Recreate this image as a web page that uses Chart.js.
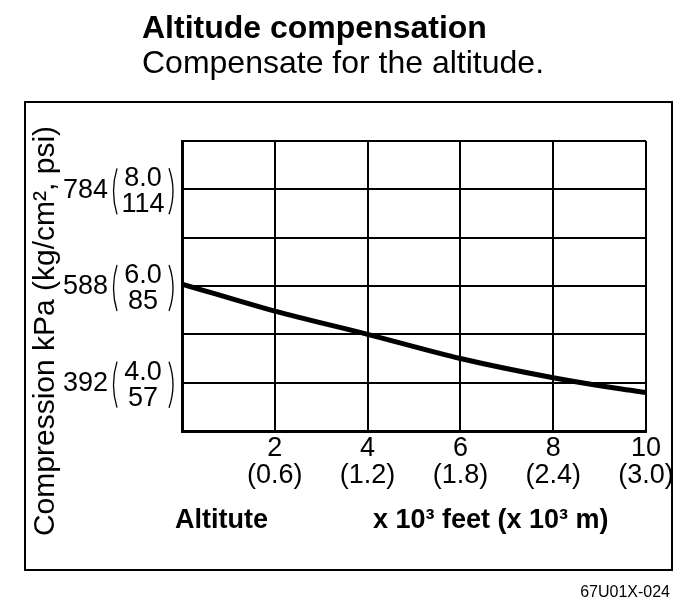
<!DOCTYPE html>
<html>
<head>
<meta charset="utf-8">
<script src="https://cdn.jsdelivr.net/npm/chart.js@4"></script>
<style>
  html, body { margin: 0; padding: 0; background: #fff; }
  #wrap { width: 687px; height: 611px; position: relative; }
</style>
</head>
<body>
<div id="wrap"><canvas id="myChart"></canvas></div>
<script>
// altitude in x10^3 ft, compression in kPa
const altitudeFt = [0, 2, 4, 6, 8, 9.4, 10];
const compressionKpa = [592, 537, 490, 441, 402, 380, 372];

const xTicks = [2, 4, 6, 8, 10];
const xTickMeters = ['(0.6)', '(1.2)', '(1.8)', '(2.4)', '(3.0)'];

const yTicksKpa = [784, 588, 392];
const yTicksKg = ['8.0', '6.0', '4.0'];
const yTicksPsi = ['114', '85', '57'];

const FONT = "'Liberation Sans', Arial, sans-serif";

const decorations = {
    id: 'decorations',
    beforeDraw(chart) {
        const ctx = chart.ctx;
        ctx.save();
        ctx.fillStyle = '#fff';
        ctx.fillRect(0, 0, chart.width, chart.height);
        ctx.restore();
    },
    afterDraw(chart) {
        const ctx = chart.ctx;
        const y = chart.scales.y;
        ctx.save();
        ctx.fillStyle = '#000';
        ctx.strokeStyle = '#000';

        // outer frame
        ctx.lineWidth = 2;
        ctx.strokeRect(25, 102, 647, 468);

        // titles
        ctx.textAlign = 'left';
        ctx.textBaseline = 'alphabetic';
        ctx.font = 'bold 32px ' + FONT;
        ctx.fillText('Altitude compensation', 142, 38);
        ctx.font = '32px ' + FONT;
        ctx.fillText('Compensate for the altitude.', 142, 73);

        // y tick labels: kPa (kg/cm2 over psi)
        yTicksKpa.forEach((v, i) => {
            const py = y.getPixelForValue(v);
            ctx.font = '27px ' + FONT;
            ctx.textAlign = 'right';
            ctx.textBaseline = 'middle';
            ctx.fillText(String(v), 108, py + 1);
            ctx.textAlign = 'center';
            ctx.textBaseline = 'alphabetic';
            ctx.font = '27px ' + FONT;
            ctx.fillText(yTicksKg[i], 143, py - 3);
            ctx.fillText(yTicksPsi[i], 143, py + 23);
            // tall thin brackets
            ctx.lineWidth = 1.3;
            ctx.beginPath();
            ctx.moveTo(117, py - 21);
            ctx.quadraticCurveTo(110, py + 2, 117, py + 25);
            ctx.stroke();
            ctx.beginPath();
            ctx.moveTo(169, py - 21);
            ctx.quadraticCurveTo(177, py + 2, 169, py + 25);
            ctx.stroke();
        });

        // y axis title
        ctx.save();
        ctx.translate(46, 331);
        ctx.rotate(-Math.PI / 2);
        ctx.textAlign = 'center';
        ctx.textBaseline = 'middle';
        ctx.font = '30px ' + FONT;
        ctx.fillText('Compression kPa (kg/cm\u00b2, psi)', 0, 0);
        ctx.restore();

        // x axis caption
        ctx.textAlign = 'left';
        ctx.textBaseline = 'alphabetic';
        ctx.font = 'bold 27px ' + FONT;
        ctx.fillText('Altitute', 175, 528);
        ctx.fillText('x 10\u00b3 feet (x 10\u00b3 m)', 373, 528);

        // figure code
        ctx.textAlign = 'right';
        ctx.font = '16px ' + FONT;
        ctx.fillText('67U01X-024', 670, 597);
        ctx.restore();
    }
};

const ctx = document.getElementById('myChart');

new Chart(ctx, {
    type: 'line',
    data: {
        datasets: [{
            data: altitudeFt.map((a, i) => ({ x: a, y: compressionKpa[i] })),
            borderColor: '#000',
            borderWidth: 5,
            pointRadius: 0,
            cubicInterpolationMode: 'monotone',
        }]
    },
    options: {
        responsive: true,
        maintainAspectRatio: false,
        animation: false,
        layout: {
            padding: { left: 182, top: 141, right: 41, bottom: 120 }
        },
        scales: {
            x: {
                type: 'linear',
                min: 0,
                max: 10,
                afterFit: (s) => { s.height = 60; },
                afterBuildTicks: (s) => {
                    s.ticks = [0].concat(xTicks).map(v => ({ value: v }));
                },
                ticks: {
                    color: '#000',
                    padding: 4,
                    maxRotation: 0,
                    autoSkip: false,
                    font: { family: FONT, size: 27, lineHeight: 1.0 },
                    callback: (v) => {
                        const i = xTicks.indexOf(v);
                        return i < 0 ? '' : [String(v), xTickMeters[i]];
                    }
                },
                grid: { color: '#000', lineWidth: 2, drawTicks: false },
                border: { color: '#000', width: 3 }
            },
            y: {
                min: 294,
                max: 882,
                afterFit: (s) => { s.width = 0; },
                ticks: { display: false, stepSize: 98 },
                grid: { color: '#000', lineWidth: 2, drawTicks: false },
                border: { color: '#000', width: 3 }
            }
        },
        plugins: {
            legend: { display: false },
            tooltip: { enabled: false },
        }
    },
    plugins: [decorations]
});
</script>
</body>
</html>
